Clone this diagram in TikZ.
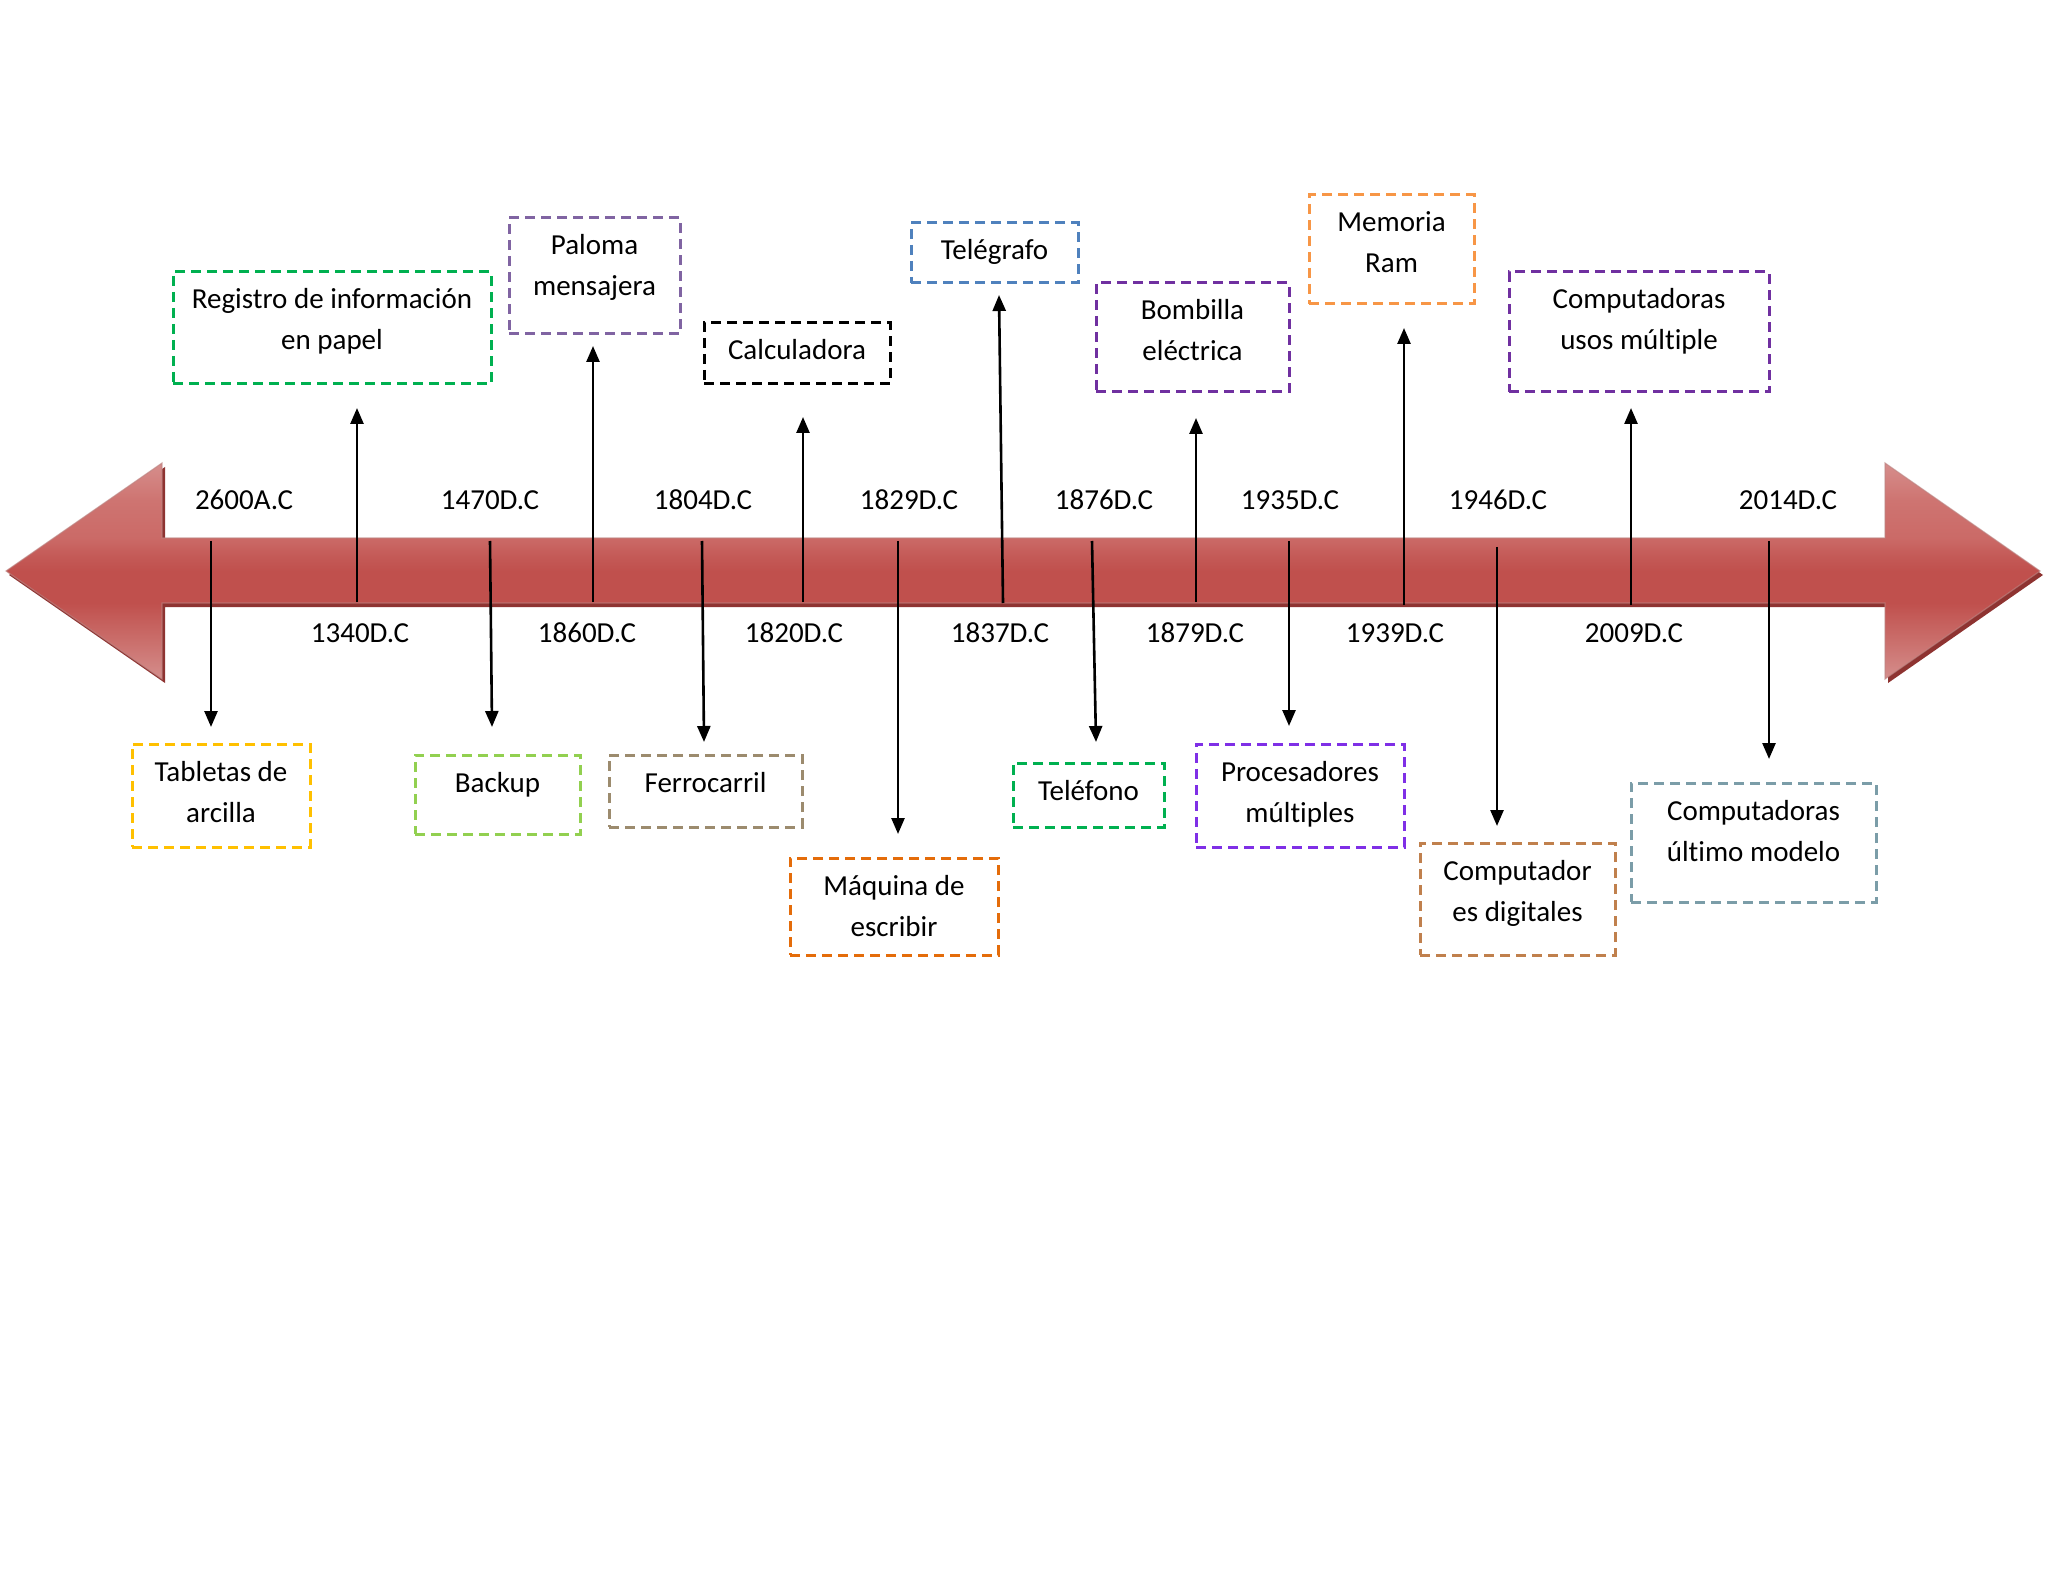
\documentclass[tikz,border=0pt]{standalone}
\usepackage{fontspec}
\setmainfont[Ligatures=NoCommon]{Carlito}
\usetikzlibrary{arrows.meta}
\definecolor{ashadow}{HTML}{8E3331}
\definecolor{sa}{HTML}{D58E8C}
\definecolor{sb}{HTML}{CA6E6B}
\definecolor{sc}{HTML}{C0504D}
\definecolor{sd}{HTML}{C45A57}
\definecolor{se}{HTML}{CB6A67}
\definecolor{sf}{HTML}{CE7471}
\definecolor{sg}{HTML}{D68E8C}
\definecolor{cgreen}{HTML}{00B050}
\definecolor{cpurgray}{HTML}{8064A2}
\definecolor{cblue}{HTML}{4F81BD}
\definecolor{cpurple}{HTML}{7030A0}
\definecolor{corange}{HTML}{F79646}
\definecolor{cyellow}{HTML}{FFC000}
\definecolor{clgreen}{HTML}{92D050}
\definecolor{ctan}{HTML}{9C8B6E}
\definecolor{cdorange}{HTML}{E46C0A}
\definecolor{cviolet}{HTML}{7F2FE6}
\definecolor{cbrown}{HTML}{C0804D}
\definecolor{cgraybl}{HTML}{7B9DA8}
\pgfdeclareverticalshading{tlshade}{100bp}{%
  color(0bp)=(sa); color(25bp)=(sa); color(34bp)=(sb);
  color(42.6bp)=(sc); color(50bp)=(sc); color(53.5bp)=(sd);
  color(57.6bp)=(se); color(66.4bp)=(sf); color(75bp)=(sg); color(100bp)=(sg)}
\tikzset{
  lbl/.style={font=\fontsize{14.5}{20.5}\selectfont, inner sep=0pt, align=center, anchor=base},
  dbox/.style={draw=#1, dash pattern=on 5pt off 3pt, line width=1.5pt, inner sep=0pt},
  conn/.style={line width=1.3pt, -{Triangle[length=8pt,width=6.5pt]}},
}
\begin{document}
\begin{tikzpicture}[x=0.5pt,y=-0.5pt]
\useasboundingbox (0,0) rectangle (2048,1582);
% timeline arrow
\fill[ashadow] ([shift={(3,4)}]6,571) -- ([shift={(3,4)}]162,463) -- ([shift={(3,4)}]162,538) -- ([shift={(3,4)}]1885,538) -- ([shift={(3,4)}]1885,463) -- ([shift={(3,4)}]2040,571) -- ([shift={(3,4)}]1885,679) -- ([shift={(3,4)}]1885,603) -- ([shift={(3,4)}]162,603) -- ([shift={(3,4)}]162,679) -- cycle;
\shade[shading=tlshade] (6,571) -- (162,463) -- (162,538) -- (1885,538) -- (1885,463) -- (2040,571) -- (1885,679) -- (1885,603) -- (162,603) -- (162,679) -- cycle;
\draw[line width=0.6pt, ashadow!60!white, opacity=0.6] (6,571) -- (162,463) -- (162,538) -- (1885,538) -- (1885,463) -- (2040,571) -- (1885,679) -- (1885,603) -- (162,603) -- (162,679) -- cycle;

% date labels
\node[lbl] (y2600) at (244,510) {2600A.C};
\node[lbl] (y1470) at (490,510) {1470D.C};
\node[lbl] (y1804) at (703,510) {1804D.C};
\node[lbl] (y1829) at (909,510) {1829D.C};
\node[lbl] (y1876) at (1104,510) {1876D.C};
\node[lbl] (y1935) at (1290,510) {1935D.C};
\node[lbl] (y1946) at (1498,510) {1946D.C};
\node[lbl] (y2014) at (1788,510) {2014D.C};
\node[lbl] (y1340) at (360,642) {1340D.C};
\node[lbl] (y1860) at (587,642) {1860D.C};
\node[lbl] (y1820) at (794,642) {1820D.C};
\node[lbl] (y1837) at (1000,642) {1837D.C};
\node[lbl] (y1879) at (1195,642) {1879D.C};
\node[lbl] (y1939) at (1395,642) {1939D.C};
\node[lbl] (y2009) at (1634,642) {2009D.C};

% boxes (top)
\node[dbox=cgreen, minimum width=159pt, minimum height=56pt] (reg) at (332,328) {};
\node[lbl] at (332,350) {Registro de información\\en papel};
\node[dbox=cpurgray, minimum width=85.5pt, minimum height=58pt] (pal) at (594.5,276) {};
\node[lbl] at (594.5,296) {Paloma\\mensajera};
\node[dbox=black, minimum width=93pt, minimum height=30.5pt] (cal) at (797,353.5) {};
\node[lbl] at (797,360) {Calculadora};
\node[dbox=cblue, minimum width=83.5pt, minimum height=30pt] (tel) at (994.5,253) {};
\node[lbl] at (994.5,260) {Telégrafo};
\node[dbox=cpurple, minimum width=96.5pt, minimum height=54.5pt] (bom) at (1192.5,337.5) {};
\node[lbl] at (1192.5,361) {Bombilla\\eléctrica};
\node[dbox=corange, minimum width=82.5pt, minimum height=54.5pt] (mem) at (1391.5,249.5) {};
\node[lbl] at (1391.5,273) {Memoria\\Ram};
\node[dbox=cpurple, minimum width=130pt, minimum height=60pt] (cus) at (1639,332) {};
\node[lbl] at (1639,350) {Computadoras\\usos múltiple};

% boxes (bottom)
\node[dbox=cyellow, minimum width=89pt, minimum height=51.5pt] (tab) at (221,795.5) {};
\node[lbl] at (221,822) {Tabletas de\\arcilla};
\node[dbox=clgreen, minimum width=82.5pt, minimum height=39.5pt] (bac) at (497.5,794.5) {};
\node[lbl] at (497.5,792) {Backup};
\node[dbox=ctan, minimum width=96.5pt, minimum height=36pt] (fer) at (705.5,791) {};
\node[lbl] at (705.5,792) {Ferrocarril};
\node[dbox=cdorange, minimum width=104pt, minimum height=48.5pt] (maq) at (894,906.5) {};
\node[lbl] at (894,936) {Máquina de\\escribir};
\node[dbox=cgreen, minimum width=75.5pt, minimum height=32pt] (tlf) at (1088.5,795) {};
\node[lbl] at (1088.5,800) {Teléfono};
\node[dbox=cviolet, minimum width=104pt, minimum height=51.5pt] (pro) at (1300,795.5) {};
\node[lbl] at (1300,822) {Procesadores\\múltiples};
\node[dbox=cbrown, minimum width=97.5pt, minimum height=56pt] (cdi) at (1517.5,899) {};
\node[lbl] at (1517.5,921) {Computador\\es digitales};
\node[dbox=cgraybl, minimum width=122.5pt, minimum height=59.5pt] (cum) at (1753.5,842.5) {};
\node[lbl] at (1753.5,861) {Computadoras\\último modelo};

% connector end points
\coordinate (d1s) at (211,541);  \coordinate (d1e) at (211,727);
\coordinate (d2s) at (490,541);  \coordinate (d2e) at (492,727);
\coordinate (d3s) at (702,541);  \coordinate (d3e) at (704,742);
\coordinate (d4s) at (898,541);  \coordinate (d4e) at (898,834);
\coordinate (d5s) at (1092,541); \coordinate (d5e) at (1096,742);
\coordinate (d6s) at (1289,541); \coordinate (d6e) at (1289,726);
\coordinate (d7s) at (1497,547); \coordinate (d7e) at (1497,826);
\coordinate (d8s) at (1769,541); \coordinate (d8e) at (1769,759);
\coordinate (u1s) at (357,602);  \coordinate (u1e) at (357,408);
\coordinate (u2s) at (593,602);  \coordinate (u2e) at (593,346);
\coordinate (u3s) at (803,602);  \coordinate (u3e) at (803,417);
\coordinate (u4s) at (1003,603); \coordinate (u4e) at (999,295);
\coordinate (u5s) at (1196,602); \coordinate (u5e) at (1196,418);
\coordinate (u6s) at (1404,605); \coordinate (u6e) at (1404,328);
\coordinate (u7s) at (1631,605); \coordinate (u7e) at (1631,408);

\foreach \i in {1,...,8} \draw[conn] (d\i s) -- (d\i e);
\foreach \i in {1,...,7} \draw[conn] (u\i s) -- (u\i e);
\end{tikzpicture}
\end{document}
